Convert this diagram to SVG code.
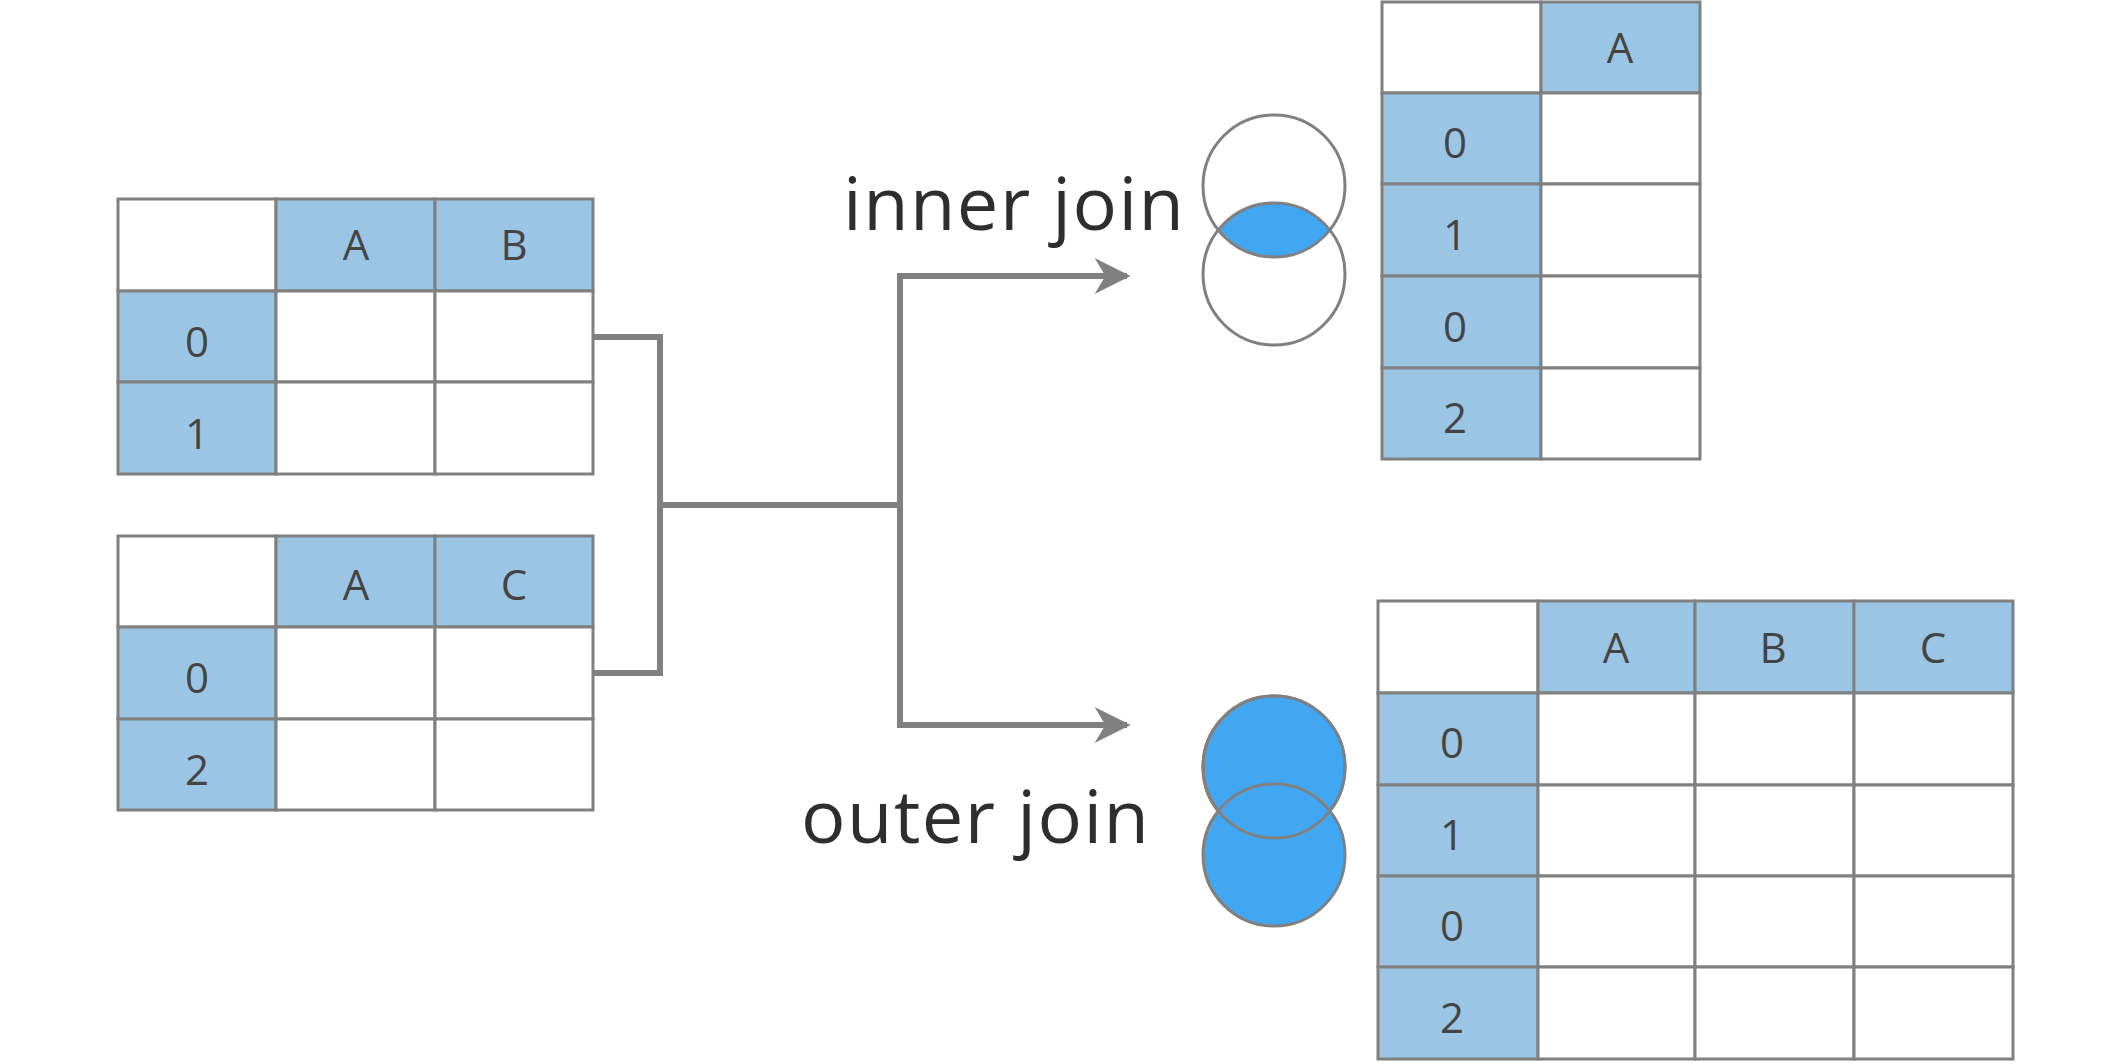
<svg xmlns="http://www.w3.org/2000/svg" width="2124" height="1064" viewBox="0 0 2124 1064">
<style>
.w{fill:#fff;stroke:#808080;stroke-width:3}
.b{fill:#9bc5e4;stroke:#808080;stroke-width:3}
.t{font-family:"Open Sans","Liberation Sans",sans-serif;font-size:42px;fill:#444;text-anchor:middle}
.big{font-family:"Open Sans","Liberation Sans",sans-serif;font-size:74px;fill:#2e2e2e}
.c{fill:none;stroke:#808080;stroke-width:6}
</style>
<defs><marker id="ar" viewBox="0 0 10 10" refX="9" refY="5" markerWidth="7" markerHeight="6" markerUnits="strokeWidth" orient="auto"><path d="M0,0 L10,5 L0,10 L3,5 Z" fill="#808080"/></marker></defs>
<rect width="2124" height="1064" fill="#fff"/>
<g id="tableAB">
<rect class="w" x="118" y="199" width="158" height="92"/><rect class="b" x="276" y="199" width="159" height="92"/><rect class="b" x="435" y="199" width="158" height="92"/>
<rect class="b" x="118" y="291" width="158" height="91"/><rect class="w" x="276" y="291" width="159" height="91"/><rect class="w" x="435" y="291" width="158" height="91"/>
<rect class="b" x="118" y="382" width="158" height="92"/><rect class="w" x="276" y="382" width="159" height="92"/><rect class="w" x="435" y="382" width="158" height="92"/>
<text class="t" x="356" y="260">A</text><text class="t" x="514" y="260">B</text><text class="t" x="197" y="357">0</text><text class="t" x="197" y="449">1</text>
</g>
<g id="tableAC">
<rect class="w" x="118" y="536" width="158" height="91"/><rect class="b" x="276" y="536" width="159" height="91"/><rect class="b" x="435" y="536" width="158" height="91"/>
<rect class="b" x="118" y="627" width="158" height="92"/><rect class="w" x="276" y="627" width="159" height="92"/><rect class="w" x="435" y="627" width="158" height="92"/>
<rect class="b" x="118" y="719" width="158" height="91"/><rect class="w" x="276" y="719" width="159" height="91"/><rect class="w" x="435" y="719" width="158" height="91"/>
<text class="t" x="356" y="600">A</text><text class="t" x="514" y="600">C</text><text class="t" x="197" y="693">0</text><text class="t" x="197" y="785">2</text>
</g>
<g id="connectors">
<path class="c" d="M593,337 H660 V673 H593"/>
<path class="c" d="M660,505 H900"/>
<path class="c" d="M1127,276 H900 V725 H1127" marker-end="url(#ar)"/>
<path class="c" d="M900,276 H1127" marker-end="url(#ar)"/>
</g>
<g id="labels">
<text class="big" x="843" y="230" textLength="341">inner join</text>
<text class="big" x="801" y="843" textLength="348">outer join</text>
</g>
<g id="venn-inner">
<clipPath id="cl"><circle cx="1274" cy="186" r="71"/></clipPath>
<circle cx="1274" cy="274" r="71" fill="#42a7f2" clip-path="url(#cl)"/>
<circle cx="1274" cy="186" r="71" fill="none" stroke="#808080" stroke-width="3"/>
<circle cx="1274" cy="274" r="71" fill="none" stroke="#808080" stroke-width="3"/>
</g>
<g id="venn-outer">
<circle cx="1274" cy="767" r="71" fill="#42a7f2" stroke="#808080" stroke-width="3"/>
<circle cx="1274" cy="855" r="71" fill="#42a7f2" stroke="#808080" stroke-width="3"/>
<circle cx="1274" cy="767" r="71" fill="none" stroke="#808080" stroke-width="3"/>
</g>
<g id="tableInner">
<rect class="w" x="1382" y="2" width="159" height="91"/><rect class="b" x="1541" y="2" width="159" height="91"/>
<rect class="b" x="1382" y="93" width="159" height="91"/><rect class="w" x="1541" y="93" width="159" height="91"/>
<rect class="b" x="1382" y="184" width="159" height="92"/><rect class="w" x="1541" y="184" width="159" height="92"/>
<rect class="b" x="1382" y="276" width="159" height="92"/><rect class="w" x="1541" y="276" width="159" height="92"/>
<rect class="b" x="1382" y="368" width="159" height="91"/><rect class="w" x="1541" y="368" width="159" height="91"/>
<text class="t" x="1620" y="63">A</text><text class="t" x="1455" y="158">0</text><text class="t" x="1455" y="250">1</text><text class="t" x="1455" y="342">0</text><text class="t" x="1455" y="433">2</text>
</g>
<g id="tableOuter">
<rect class="w" x="1378" y="601" width="160" height="92"/><rect class="b" x="1538" y="601" width="157" height="92"/><rect class="b" x="1695" y="601" width="159" height="92"/><rect class="b" x="1854" y="601" width="159" height="92"/>
<rect class="b" x="1378" y="693" width="160" height="92"/><rect class="w" x="1538" y="693" width="157" height="92"/><rect class="w" x="1695" y="693" width="159" height="92"/><rect class="w" x="1854" y="693" width="159" height="92"/>
<rect class="b" x="1378" y="785" width="160" height="91"/><rect class="w" x="1538" y="785" width="157" height="91"/><rect class="w" x="1695" y="785" width="159" height="91"/><rect class="w" x="1854" y="785" width="159" height="91"/>
<rect class="b" x="1378" y="876" width="160" height="91"/><rect class="w" x="1538" y="876" width="157" height="91"/><rect class="w" x="1695" y="876" width="159" height="91"/><rect class="w" x="1854" y="876" width="159" height="91"/>
<rect class="b" x="1378" y="967" width="160" height="92"/><rect class="w" x="1538" y="967" width="157" height="92"/><rect class="w" x="1695" y="967" width="159" height="92"/><rect class="w" x="1854" y="967" width="159" height="92"/>
<text class="t" x="1616" y="663">A</text><text class="t" x="1773" y="663">B</text><text class="t" x="1933" y="663">C</text>
<text class="t" x="1452" y="758">0</text><text class="t" x="1452" y="850">1</text><text class="t" x="1452" y="941">0</text><text class="t" x="1452" y="1033">2</text>
</g>
</svg>
